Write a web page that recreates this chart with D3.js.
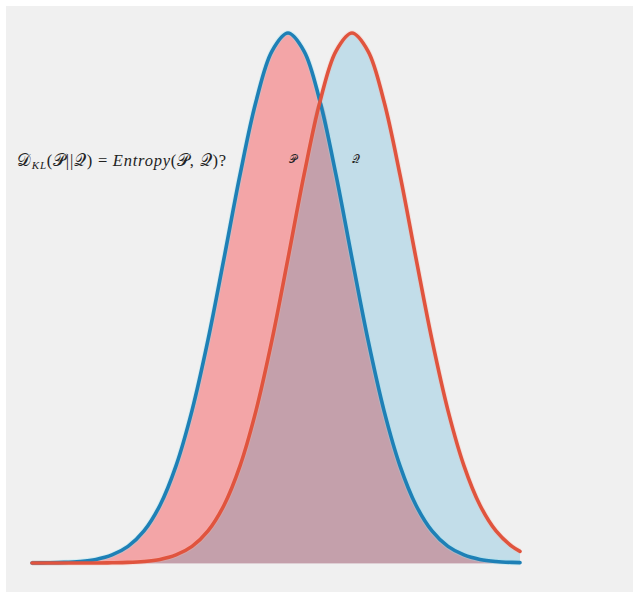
<!DOCTYPE html>
<html>
<head>
<meta charset="utf-8">
<script src="https://cdn.jsdelivr.net/npm/d3@7"></script>
<style>
  html, body { margin: 0; padding: 0; background: #ffffff; }
  svg { display: block; }
</style>
</head>
<body>
<div id="chart"></div>
<script>
// ---- Data ----
const xs = [-4.0, -3.75, -3.5, -3.25, -3.0, -2.75, -2.5, -2.25, -2.0, -1.75, -1.5, -1.25, -1.0, -0.75, -0.5, -0.25,
            0.0, 0.25, 0.5, 0.75, 1.0, 1.25, 1.5, 1.75, 2.0, 2.25, 2.5, 2.75, 3.0, 3.25, 3.5, 3.625];
const pValues = [0.0001, 0.0004, 0.0011, 0.0029, 0.0068, 0.0152, 0.0313, 0.0605, 0.1090, 0.1833, 0.2875, 0.4208, 0.5747, 0.7323, 0.8707, 0.9660,
                 1.0000, 0.9660, 0.8707, 0.7323, 0.5747, 0.4208, 0.2875, 0.1833, 0.1090, 0.0605, 0.0313, 0.0152, 0.0068, 0.0029, 0.0011, 0.0007];
const qValues = [0.0000, 0.0000, 0.0000, 0.00005, 0.0001, 0.0004, 0.0011, 0.0029, 0.0068, 0.0152, 0.0313, 0.0605, 0.1090, 0.1833, 0.2875, 0.4208,
                 0.5747, 0.7323, 0.8707, 0.9660, 1.0000, 0.9660, 0.8707, 0.7323, 0.5747, 0.4208, 0.2875, 0.1833, 0.1090, 0.0605, 0.0313, 0.0220];
const seriesNames = ["𝒫", "𝒬"];
const titleParts = ["𝒟", "KL", "(𝒫||𝒬) = ", "Entropy", "(𝒫, 𝒬)?"];

// ---- Layout ----
const W = 640, H = 597;
const svg = d3.select("#chart").append("svg").attr("width", W).attr("height", H);

svg.append("rect").attr("x", 6).attr("y", 6).attr("width", 627).attr("height", 586)
   .attr("fill", "#f0f0f0");

const x = d3.scaleLinear().domain([-4.0, 3.625]).range([32, 520]);
const y = d3.scaleLinear().domain([0, 1]).range([563, 33]);

const P = xs.map((v, i) => ({x: v, y: pValues[i]}));
const Q = xs.map((v, i) => ({x: v, y: qValues[i]}));
const M = xs.map((v, i) => ({x: v, y: Math.min(pValues[i], qValues[i])}));

const curve = d3.curveCatmullRom.alpha(0.5);
const area = d3.area().x(d => x(d.x)).y0(y(0)).y1(d => y(d.y)).curve(curve);
const line = d3.line().x(d => x(d.x)).y(d => y(d.y)).curve(curve);

svg.append("path").datum(P).attr("d", area).attr("fill", "#f3a5a7");
svg.append("path").datum(Q).attr("d", area).attr("fill", "#c2dde9");
svg.append("path").datum(M).attr("d", area).attr("fill", "#c4a0ab")
   .attr("stroke", "#c4a0ab").attr("stroke-width", 0.8);

// halos
svg.append("path").datum(P).attr("d", line).attr("fill", "none")
   .attr("stroke", "#8fe3f5").attr("stroke-width", 5.5).attr("stroke-opacity", 0.3);
svg.append("path").datum(Q).attr("d", line).attr("fill", "none")
   .attr("stroke", "#ffb5a5").attr("stroke-width", 5.5).attr("stroke-opacity", 0.25);

svg.append("path").datum(P).attr("d", line).attr("fill", "none")
   .attr("stroke", "#1e80b6").attr("stroke-width", 3.6).attr("stroke-linecap", "round");
svg.append("path").datum(Q).attr("d", line).attr("fill", "none")
   .attr("stroke", "#e0543e").attr("stroke-width", 3.6).attr("stroke-linecap", "round");

// ---- Text ----
const font = "'Liberation Serif', 'DejaVu Serif', serif";
const t = svg.append("text").attr("x", 17).attr("y", 166)
  .attr("font-family", font).attr("font-size", 16.5).attr("fill", "#222")
  .attr("textLength", 209).attr("lengthAdjust", "spacing");
t.append("tspan").text(titleParts[0]);
t.append("tspan").attr("font-size", 11).attr("font-style", "italic").attr("dy", 3).text(titleParts[1]);
t.append("tspan").attr("dy", -3).text(titleParts[2]);
t.append("tspan").attr("font-style", "italic").text(titleParts[3]);
t.append("tspan").text(titleParts[4]);

svg.append("text").attr("x", x(0) + 5).attr("y", 163).attr("text-anchor", "middle")
   .attr("font-family", font).attr("font-size", 11).attr("fill", "#222").text(seriesNames[0]);
svg.append("text").attr("x", x(1) + 4).attr("y", 163).attr("text-anchor", "middle")
   .attr("font-family", font).attr("font-size", 11).attr("fill", "#222").text(seriesNames[1]);
</script>
</body>
</html>
